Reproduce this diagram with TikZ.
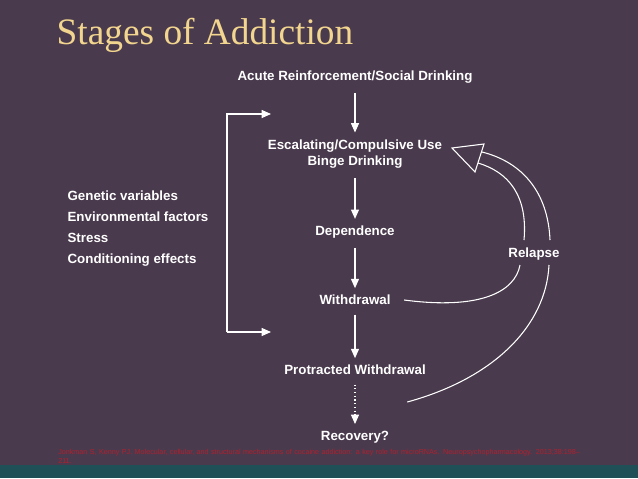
\documentclass[tikz,border=0pt]{standalone}
\usepackage{fontspec}
\setmainfont{Liberation Sans}
\newfontfamily\titlefont{Liberation Serif}
\usetikzlibrary{positioning,arrows.meta}
\definecolor{slidebg}{HTML}{4A3A4D}
\definecolor{titlegold}{HTML}{F2D58E}
\definecolor{citered}{HTML}{B0202E}
\definecolor{bandteal}{HTML}{1F4F57}
\begin{document}
\begin{tikzpicture}[
        x=0.75pt, y=-0.75pt,
        stage/.style={text=white, font=\fontsize{10}{12.5}\selectfont\bfseries, align=center, inner sep=1pt},
        factor/.style={text=white, font=\fontsize{10}{12}\selectfont\bfseries, anchor=west, inner sep=1pt},
        arrow/.style={-{Triangle[width=6pt,length=7pt]}, white, thick},
        flow/.style={arrow, shorten <=6pt, shorten >=4pt},
        curve/.style={white, thick}
    ]
    \fill[slidebg] (0,0) rectangle (638,478);
    \useasboundingbox (0,0) rectangle (638,478);
    \fill[bandteal] (0,465) rectangle (638,478);

    \node[anchor=west, text=titlegold, font=\titlefont\fontsize{28}{32}\selectfont] (title) at (52,35) {Stages of Addiction};

    \node[stage] (acute) at (355,77) {Acute Reinforcement/Social Drinking};
    \node[stage] (escal) at (355,154) {Escalating/Compulsive Use\\Binge Drinking};
    \node[stage] (dep) at (355,232) {Dependence};
    \node[stage] (withd) at (355,300) {Withdrawal};
    \node[stage] (prot) at (355,370) {Protracted Withdrawal};
    \node[stage] (recov) at (355,437) {Recovery?};

    \draw[flow] (acute) -- (escal);
    \draw[flow] (escal) -- (dep);
    \draw[flow] (dep) -- (withd);
    \draw[flow] (withd) -- (prot);
    \draw[flow, dotted] (prot) -- (recov);

    \node[factor] (gen) at (66,196) {Genetic variables};
    \node[factor] (env) at (66,217) {Environmental factors};
    \node[factor] (str) at (66,238) {Stress};
    \node[factor] (cond) at (66,260) {Conditioning effects};

    \coordinate (btop) at (227,114);
    \coordinate (bbot) at (227,332);
    \draw[arrow] (bbot) -- (btop) -- (271,114);
    \draw[arrow] (bbot) -- (271,332);

    \node[text=white, font=\fontsize{10}{12}\selectfont\bfseries, inner sep=1pt] (relapse) at (534,254) {Relapse};

    % hollow relapse arrow
    \draw[curve] (withd.east) ++(12,0) .. controls (480,310) and (515,292) .. (520,265);
    \draw[curve] (524,240) .. controls (528,195) and (508,172) .. (478,163);
    \draw[curve] (prot.east) ++(-20,32) .. controls (495,378) and (546,325) .. (549,265);
    \draw[curve] (550,240) .. controls (548,192) and (522,162) .. (482,152);
    \draw[curve, fill=slidebg, line join=miter] (452,148) -- (484,144) -- (475,172) -- cycle;

    \node[anchor=north west, text=citered, font=\fontsize{5.4}{6.5}\selectfont, text width=395pt, inner sep=0pt] (cite) at (58,449)
        {Jonkman S, Kenny PJ. Molecular, cellular, and structural mechanisms of cocaine addiction: a key role for microRNAs. Neuropsychopharmacology. 2013;38:198--211.};
\end{tikzpicture}
\end{document}
